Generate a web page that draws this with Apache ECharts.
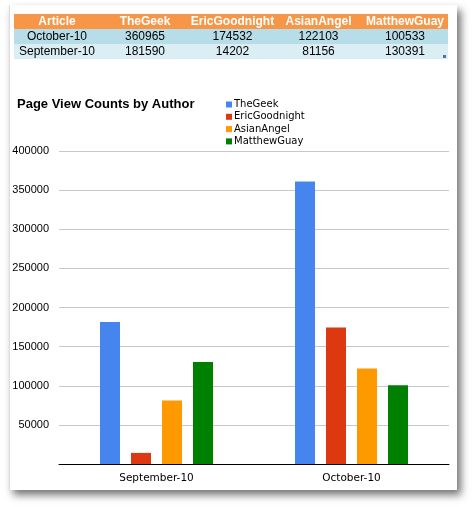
<!DOCTYPE html>
<html>
<head>
<meta charset="utf-8">
<script src="https://cdn.jsdelivr.net/npm/echarts@6/dist/echarts.min.js"></script>
<style>
  html, body { margin: 0; padding: 0; background: #fff; }
  #panel {
    position: absolute; left: 9px; top: 5px; width: 447px; height: 485px;
    background: #fff; box-shadow: 4px 5px 8px rgba(0,0,0,0.55);
    border-left: 1px solid #ddd;
  }
  #chart { position: absolute; left: 0; top: 0; width: 474px; height: 507px; }
  #sheet {
    position: absolute; left: 14px; top: 14px; width: 434px;
    border-collapse: collapse; font-family: "Liberation Sans", Arial, sans-serif;
    font-size: 12px; table-layout: fixed;
  }
  #sheet td { height: 15px; padding: 0; text-align: center; line-height: 15px; }
  #sheet tr.head td { background: #f79646; color: #fff; font-weight: bold; }
  #sheet tr.r0 td { background: #b7dee8; }
  #sheet tr.r1 td { background: #daeef3; }
  #corner { position: absolute; left: 443px; top: 55px; width: 3px; height: 3px; background: #4f6fa8; }
</style>
</head>
<body>
<div id="panel"></div>
<div id="chart"></div>
<table id="sheet"></table>
<div id="corner"></div>
<script>
// 数据
var authors = ['TheGeek', 'EricGoodnight', 'AsianAngel', 'MatthewGuay'];
var months = ['September-10', 'October-10'];
var theGeek = [181590, 360965];
var ericGoodnight = [14202, 174532];
var asianAngel = [81156, 122103];
var matthewGuay = [130391, 100533];
var colors = ['#4684ee', '#dc3912', '#ff9900', '#008000'];

// 表格 (October first, like the sheet)
var table = document.getElementById('sheet');
var colW = [86, 90, 85, 87, 86];
var html = '<colgroup>' + colW.map(function (w) { return '<col style="width:' + w + 'px">'; }).join('') + '</colgroup>';
html += '<tr class="head"><td>Article</td>' + authors.map(function (a) { return '<td>' + a + '</td>'; }).join('') + '</tr>';
var all = [theGeek, ericGoodnight, asianAngel, matthewGuay];
[1, 0].forEach(function (m, r) {
  html += '<tr class="r' + r + '"><td>' + months[m] + '</td>';
  all.forEach(function (s) { html += '<td>' + s[m] + '</td>'; });
  html += '</tr>';
});
table.innerHTML = html;

var font = '"DejaVu Sans", Verdana, sans-serif';
var option = {
  color: colors,
  animation: false,
  title: {
    text: 'Page View Counts by Author',
    left: 12, top: 93,
    textStyle: { fontFamily: '"Liberation Sans", Arial, sans-serif', fontSize: 13, fontWeight: 'bold', color: '#000' }
  },
  legend: {
    orient: 'vertical',
    left: 221, top: 94,
    icon: 'rect',
    itemWidth: 6, itemHeight: 6, itemGap: 1.3,
    data: authors,
    textStyle: { fontFamily: font, fontSize: 10, color: '#000', padding: [0, 0, 0, -3], lineHeight: 11 }
  },
  grid: { left: 59, right: 25, top: 151, bottom: 43 },
  xAxis: {
    type: 'category',
    data: months,
    axisLine: { lineStyle: { color: '#000', width: 1 } },
    axisTick: { length: 4, lineStyle: { color: '#000' } },
    axisLabel: { fontFamily: font, fontSize: 10.5, color: '#000', margin: 9 }
  },
  yAxis: {
    type: 'value',
    min: 0, max: 400000, interval: 50000,
    axisLine: { show: false },
    axisTick: { show: false },
    axisLabel: {
      fontFamily: '"Liberation Sans", Arial, sans-serif', fontSize: 11, color: '#000', margin: 10,
      formatter: function (v) { return v === 0 ? '' : v; }
    },
    splitLine: { lineStyle: { color: '#c8c8c8', width: 1 } }
  },
  series: [
    { name: 'TheGeek', type: 'bar', barWidth: 20, barGap: '55%', data: theGeek },
    { name: 'EricGoodnight', type: 'bar', barWidth: 20, barGap: '55%', data: ericGoodnight },
    { name: 'AsianAngel', type: 'bar', barWidth: 20, barGap: '55%', data: asianAngel },
    { name: 'MatthewGuay', type: 'bar', barWidth: 20, barGap: '55%', data: matthewGuay }
  ]
};
var myChart = echarts.init(document.getElementById('chart'));
myChart.setOption(option);
</script>
</body>
</html>
